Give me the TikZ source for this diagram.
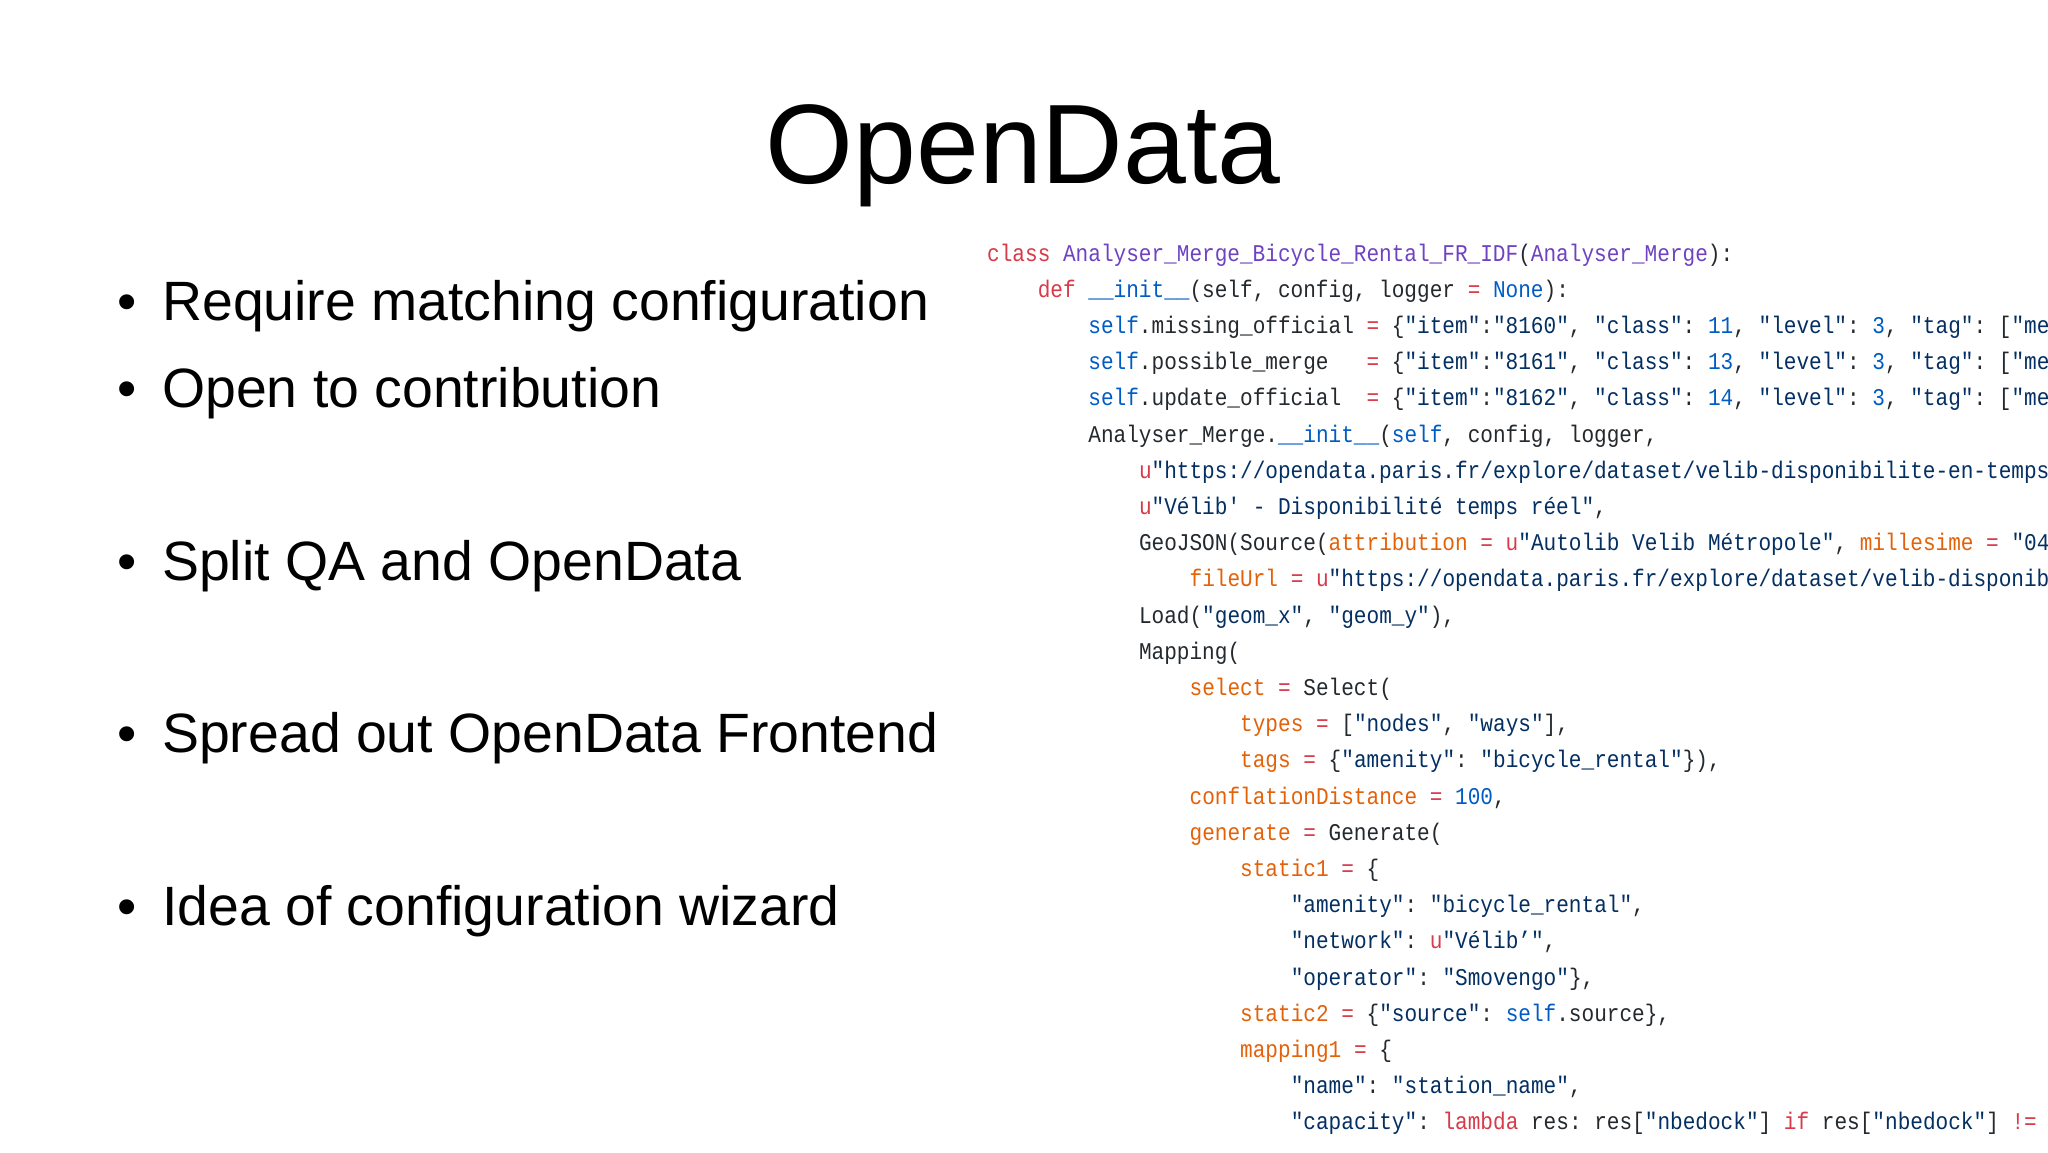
\documentclass[tikz,border=0pt]{standalone}
\usepackage{fontspec}
\setmainfont{Liberation Sans}
\setmonofont{Liberation Mono}[FakeStretch=0.878]
\definecolor{ckw}{HTML}{D73A49}
\definecolor{ccls}{HTML}{6F42C1}
\definecolor{cblu}{HTML}{005CC5}
\definecolor{cora}{HTML}{E36209}
\definecolor{cstr}{HTML}{032F62}
\definecolor{cdef}{HTML}{24292E}
\newcommand{\K}[1]{\textcolor{ckw}{#1}}
\newcommand{\Cl}[1]{\textcolor{ccls}{#1}}
\newcommand{\Bl}[1]{\textcolor{cblu}{#1}}
\newcommand{\Or}[1]{\textcolor{cora}{#1}}
\newcommand{\St}[1]{\textcolor{cstr}{#1}}
\newcommand{\Ind}[1]{\hspace*{\dimexpr #1\dimexpr 50.6pt\relax\relax}}
\tikzset{
  bul/.style={anchor=base, font=\fontsize{55}{60}\selectfont, inner sep=0},
  btext/.style={anchor=base west, font=\fontsize{55.4}{60}\selectfont, inner sep=0},
  code/.style={anchor=base west, font=\ttfamily\fontsize{24}{28}\selectfont, text=cdef, inner sep=0}
}
\begin{document}
\begin{tikzpicture}[x=1pt,y=-1pt]
\useasboundingbox (0,0) rectangle (2048,1152);
\clip (0,0) rectangle (2048,1152);
\fill[white] (0,0) rectangle (2048,1152);
\node[anchor=base, font=\fontsize{113}{120}\selectfont, inner sep=0] (title) at (1023,183) {OpenData};
\foreach \y/\t [count=\i] in {320/Require matching configuration, 407/Open to contribution, 580/Split QA and OpenData, 752/Spread out OpenData Frontend, 925/Idea of configuration wizard}{
  \node[bul] (b\i) at (127,\y) {•};
  \node[btext] (t\i) at (162,\y) {\t};
}
\def\L#1#2#3{\node[code] (c#1) at (987,261+#1*36.2) {\Ind{#2}#3};}
\L{0}{0}{\K{class} \Cl{Analyser\_Merge\_Bicycle\_Rental\_FR\_IDF}(\Cl{Analyser\_Merge}):}
\L{1}{1}{\K{def} \Bl{\_\_init\_\_}(self, config, logger \K{=} \Bl{None}):}
\L{2}{2}{\Bl{self}.missing\_official \K{=} \{\St{"item"}:\St{"8160"}, \St{"class"}: \Bl{11}, \St{"level"}: \Bl{3}, \St{"tag"}: [\St{"merge"}, \St{"railway"}]\}}
\L{3}{2}{\Bl{self}.possible\_merge\ \ \ \K{=} \{\St{"item"}:\St{"8161"}, \St{"class"}: \Bl{13}, \St{"level"}: \Bl{3}, \St{"tag"}: [\St{"merge"}, \St{"railway"}]\}}
\L{4}{2}{\Bl{self}.update\_official\ \ \K{=} \{\St{"item"}:\St{"8162"}, \St{"class"}: \Bl{14}, \St{"level"}: \Bl{3}, \St{"tag"}: [\St{"merge"}, \St{"railway"}]\}}
\L{5}{2}{Analyser\_Merge.\Bl{\_\_init\_\_}(\Bl{self}, config, logger,}
\L{6}{3}{\K{u}\St{"https://opendata.paris.fr/explore/dataset/velib-disponibilite-en-temps-reel/"},}
\L{7}{3}{\K{u}\St{"Vélib' - Disponibilité temps réel"},}
\L{8}{3}{GeoJSON(Source(\Or{attribution} \K{=} \K{u}\St{"Autolib Velib Métropole"}, \Or{millesime} \K{=} \St{"04/2020"},}
\L{9}{4}{\Or{fileUrl} \K{=} \K{u}\St{"https://opendata.paris.fr/explore/dataset/velib-disponibilite-en-temps-reel/download/"}}
\L{10}{3}{Load(\St{"geom\_x"}, \St{"geom\_y"}),}
\L{11}{3}{Mapping(}
\L{12}{4}{\Or{select} \K{=} Select(}
\L{13}{5}{\Or{types} \K{=} [\St{"nodes"}, \St{"ways"}],}
\L{14}{5}{\Or{tags} \K{=} \{\St{"amenity"}: \St{"bicycle\_rental"}\}),}
\L{15}{4}{\Or{conflationDistance} \K{=} \Bl{100},}
\L{16}{4}{\Or{generate} \K{=} Generate(}
\L{17}{5}{\Or{static1} \K{=} \{}
\L{18}{6}{\St{"amenity"}: \St{"bicycle\_rental"},}
\L{19}{6}{\St{"network"}: \K{u}\St{"Vélib’"},}
\L{20}{6}{\St{"operator"}: \St{"Smovengo"}\},}
\L{21}{5}{\Or{static2} \K{=} \{\St{"source"}: \Bl{self}.source\},}
\L{22}{5}{\Or{mapping1} \K{=} \{}
\L{23}{6}{\St{"name"}: \St{"station\_name"},}
\L{24}{6}{\St{"capacity"}: \K{lambda} res: res[\St{"nbedock"}] \K{if} res[\St{"nbedock"}] \K{!=} \Bl{0} \K{else} None,}
\end{tikzpicture}
\end{document}
